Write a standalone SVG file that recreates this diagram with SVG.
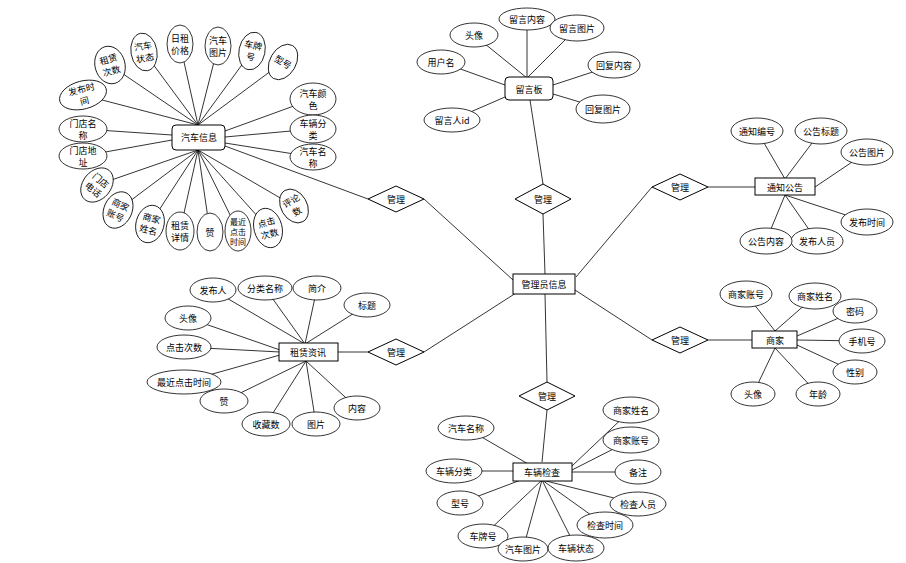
<svg xmlns="http://www.w3.org/2000/svg" width="906" height="563" viewBox="0 0 906 563">
<style>
.b{fill:#fff;stroke:#000;stroke-width:1}
.e{fill:#fff;stroke:#000;stroke-width:0.8}
.l{stroke:#000;stroke-width:0.8;fill:none}
text{font-family:"Noto Sans CJK SC","Liberation Sans",sans-serif;font-size:9px;text-anchor:middle;dominant-baseline:central;fill:#000}
.s{font-size:8px}
</style>
<rect width="906" height="563" fill="#fff"/>
<g id="connectors" class="l">
<path d="M225 146L368 199M424 199L513 280M530 100L543 184M543 214L545 274M576 277L652 187M708 187L755 187M575 290L652 340M708 340L752 340M338 352L368 352M424 352L516 293M545 294L547 382M547 410L542 462"/>
<path d="M110 65L198 125M144 52L198 125M180 44L198 125M218 46L198 125M252 51L198 125M283 62L198 125M313 99L225 131M313 129L225 137M313 157L225 143M294 206L198 150M268 228L198 150M238 231L198 150M210 232L198 150M180 231L198 150M150 224L198 150M118 210L198 150M97 185L198 150M83 156L172 140M83 129L172 135M83 95L198 125"/>
<path d="M213 290L305 344M265 288L305 344M317 288L305 344M367 305L305 344M188 318L280 350M184 347L280 352M184 382L280 355M224 401L306 361M266 424L306 361M316 424L306 361M357 408L306 361"/>
<path d="M474 35L527 78M527 19L527 78M577 28L527 78M441 62L505 85M614 65L553 85M603 109L553 94M452 120L505 97"/>
<path d="M757 131L785 179M821 131L785 179M867 152L815 187M867 222L785 195M817 241L785 195M766 241L785 195"/>
<path d="M746 294L775 331M815 296L775 331M855 311L797 336M862 341L797 340M855 372L797 345M818 394L775 348M753 394L775 348"/>
<path d="M466 428L542 472M454 471L513 471M460 503L542 472M483 536L542 480M523 549L542 480M576 548L542 480M605 525L542 480M638 504L542 480M638 472L572 472M631 440L572 470M631 410L572 466"/>
</g>
<g id="admin"><rect class="b" x="513" y="274" width="62" height="20"/><text x="544" y="284">管理员信息</text></g>
<g id="car"><rect class="b" x="172" y="125" width="53" height="25" rx="4"/><text x="199" y="137">汽车信息</text></g>
<g id="board"><rect class="b" x="505" y="77" width="48" height="23" rx="4"/><text x="529" y="89">留言板</text></g>
<g id="notice"><rect class="b" x="755" y="178" width="60" height="17"/><text x="785" y="187">通知公告</text></g>
<g id="merchant"><rect class="b" x="752" y="331" width="45" height="17"/><text x="775" y="340">商家</text></g>
<g id="check"><rect class="b" x="513" y="463" width="59" height="18"/><text x="542" y="472">车辆检查</text></g>
<g id="rental"><rect class="b" x="279" y="343" width="59" height="18"/><text x="308" y="352">租赁资讯</text></g>
<g id="diamonds">
<g id="d1"><polygon class="b" points="368,199 396,186 424,199 396,212"/><text x="396" y="199">管理</text></g>
<g id="d2"><polygon class="b" points="515,199 543,184 571,199 543,214"/><text x="543" y="199">管理</text></g>
<g id="d3"><polygon class="b" points="652,187 680,174 708,187 680,200"/><text x="680" y="187">管理</text></g>
<g id="d4"><polygon class="b" points="368,352 396,339 424,352 396,365"/><text x="396" y="352">管理</text></g>
<g id="d5"><polygon class="b" points="652,340 680,327 708,340 680,353"/><text x="680" y="340">管理</text></g>
<g id="d6"><polygon class="b" points="519,396 547,382 575,396 547,410"/><text x="547" y="396">管理</text></g>
</g>
<g id="car-attrs">
<g transform="rotate(-15 110 65)"><ellipse class="e" cx="110" cy="65" rx="15" ry="19"/><text x="110" y="59">租赁</text><text x="110" y="71">次数</text></g>
<g transform="rotate(-10 144 52)"><ellipse class="e" cx="144" cy="52" rx="13" ry="19"/><text x="144" y="46">汽车</text><text x="144" y="58">状态</text></g>
<g><ellipse class="e" cx="180" cy="44" rx="13" ry="19"/><text x="180" y="38">日租</text><text x="180" y="50">价格</text></g>
<g><ellipse class="e" cx="218" cy="46" rx="13" ry="19"/><text x="218" y="40">汽车</text><text x="218" y="52">图片</text></g>
<g transform="rotate(12 252 51)"><ellipse class="e" cx="252" cy="51" rx="13" ry="19"/><text x="252" y="45">车牌</text><text x="252" y="57">号</text></g>
<g transform="rotate(30 283 62)"><ellipse class="e" cx="283" cy="62" rx="13" ry="19"/><text x="283" y="62">型号</text></g>
<g><ellipse class="e" cx="313" cy="99" rx="23" ry="16"/><text x="313" y="93">汽车颜</text><text x="313" y="105">色</text></g>
<g><ellipse class="e" cx="313" cy="129" rx="23" ry="14"/><text x="313" y="123">车辆分</text><text x="313" y="135">类</text></g>
<g><ellipse class="e" cx="313" cy="157" rx="23" ry="13"/><text x="313" y="151">汽车名</text><text x="313" y="163">称</text></g>
<g transform="rotate(-30 294 206)"><ellipse class="e" cx="294" cy="206" rx="13" ry="18"/><text x="294" y="200">评论</text><text x="294" y="212">数</text></g>
<g transform="rotate(-15 268 228)"><ellipse class="e" cx="268" cy="228" rx="14" ry="20"/><text x="268" y="222">点击</text><text x="268" y="234">次数</text></g>
<g><ellipse class="e" cx="238" cy="231" rx="13" ry="20"/><text class="s" x="238" y="221">最近</text><text class="s" x="238" y="231">点击</text><text class="s" x="238" y="241">时间</text></g>
<g><ellipse class="e" cx="210" cy="232" rx="13" ry="19"/><text x="210" y="232">赞</text></g>
<g><ellipse class="e" cx="180" cy="231" rx="14" ry="19"/><text x="180" y="225">租赁</text><text x="180" y="237">详情</text></g>
<g transform="rotate(15 150 224)"><ellipse class="e" cx="150" cy="224" rx="14" ry="19"/><text x="150" y="218">商家</text><text x="150" y="230">姓名</text></g>
<g transform="rotate(25 118 210)"><ellipse class="e" cx="118" cy="210" rx="14" ry="19"/><text x="118" y="204">商家</text><text x="118" y="216">账号</text></g>
<g transform="rotate(40 97 185)"><ellipse class="e" cx="97" cy="185" rx="14" ry="19"/><text x="97" y="179">门店</text><text x="97" y="191">电话</text></g>
<g><ellipse class="e" cx="83" cy="156" rx="24" ry="13"/><text x="83" y="150">门店地</text><text x="83" y="162">址</text></g>
<g><ellipse class="e" cx="83" cy="129" rx="24" ry="13"/><text x="83" y="123">门店名</text><text x="83" y="135">称</text></g>
<g transform="rotate(-15 83 95)"><ellipse class="e" cx="83" cy="95" rx="24" ry="14"/><text x="83" y="89">发布时</text><text x="83" y="101">间</text></g>
</g>
<g id="rental-attrs">
<ellipse class="e" cx="213" cy="290" rx="23" ry="12"/><text x="213" y="290">发布人</text>
<ellipse class="e" cx="265" cy="288" rx="27" ry="12"/><text x="265" y="288">分类名称</text>
<ellipse class="e" cx="317" cy="288" rx="24" ry="12"/><text x="317" y="288">简介</text>
<ellipse class="e" cx="367" cy="305" rx="23" ry="12"/><text x="367" y="305">标题</text>
<ellipse class="e" cx="188" cy="318" rx="23" ry="12"/><text x="188" y="318">头像</text>
<ellipse class="e" cx="184" cy="347" rx="27" ry="12"/><text x="184" y="347">点击次数</text>
<ellipse class="e" cx="184" cy="382" rx="37" ry="12"/><text x="184" y="382">最近点击时间</text>
<ellipse class="e" cx="224" cy="401" rx="24" ry="12"/><text x="224" y="401">赞</text>
<ellipse class="e" cx="266" cy="424" rx="24" ry="12"/><text x="266" y="424">收藏数</text>
<ellipse class="e" cx="316" cy="424" rx="24" ry="12"/><text x="316" y="424">图片</text>
<ellipse class="e" cx="357" cy="408" rx="23" ry="12"/><text x="357" y="408">内容</text>
</g>
<g id="board-attrs">
<ellipse class="e" cx="474" cy="35" rx="24" ry="12"/><text x="474" y="35">头像</text>
<ellipse class="e" cx="527" cy="19" rx="28" ry="11"/><text x="527" y="19">留言内容</text>
<ellipse class="e" cx="577" cy="28" rx="27" ry="13"/><text x="577" y="28">留言图片</text>
<ellipse class="e" cx="441" cy="62" rx="24" ry="12"/><text x="441" y="62">用户名</text>
<ellipse class="e" cx="614" cy="65" rx="26" ry="13"/><text x="614" y="65">回复内容</text>
<ellipse class="e" cx="603" cy="109" rx="27" ry="14"/><text x="603" y="109">回复图片</text>
<ellipse class="e" cx="452" cy="120" rx="28" ry="12"/><text x="452" y="120">留言人id</text>
</g>
<g id="notice-attrs">
<ellipse class="e" cx="757" cy="131" rx="26" ry="13"/><text x="757" y="131">通知编号</text>
<ellipse class="e" cx="821" cy="131" rx="26" ry="13"/><text x="821" y="131">公告标题</text>
<ellipse class="e" cx="867" cy="152" rx="26" ry="13"/><text x="867" y="152">公告图片</text>
<ellipse class="e" cx="867" cy="222" rx="26" ry="13"/><text x="867" y="222">发布时间</text>
<ellipse class="e" cx="817" cy="241" rx="26" ry="13"/><text x="817" y="241">发布人员</text>
<ellipse class="e" cx="766" cy="241" rx="26" ry="13"/><text x="766" y="241">公告内容</text>
</g>
<g id="merchant-attrs">
<ellipse class="e" cx="746" cy="294" rx="26" ry="13"/><text x="746" y="294">商家账号</text>
<ellipse class="e" cx="815" cy="296" rx="26" ry="13"/><text x="815" y="296">商家姓名</text>
<ellipse class="e" cx="855" cy="311" rx="22" ry="12"/><text x="855" y="311">密码</text>
<ellipse class="e" cx="862" cy="341" rx="23" ry="12"/><text x="862" y="341">手机号</text>
<ellipse class="e" cx="855" cy="372" rx="22" ry="12"/><text x="855" y="372">性别</text>
<ellipse class="e" cx="818" cy="394" rx="22" ry="12"/><text x="818" y="394">年龄</text>
<ellipse class="e" cx="753" cy="394" rx="22" ry="12"/><text x="753" y="394">头像</text>
</g>
<g id="check-attrs">
<ellipse class="e" cx="466" cy="428" rx="28" ry="12"/><text x="466" y="428">汽车名称</text>
<ellipse class="e" cx="454" cy="471" rx="28" ry="12"/><text x="454" y="471">车辆分类</text>
<ellipse class="e" cx="460" cy="503" rx="23" ry="12"/><text x="460" y="503">型号</text>
<ellipse class="e" cx="483" cy="536" rx="25" ry="12"/><text x="483" y="536">车牌号</text>
<ellipse class="e" cx="523" cy="549" rx="25" ry="12"/><text x="523" y="549">汽车图片</text>
<ellipse class="e" cx="576" cy="548" rx="28" ry="13"/><text x="576" y="548">车辆状态</text>
<ellipse class="e" cx="605" cy="525" rx="28" ry="13"/><text x="605" y="525">检查时间</text>
<ellipse class="e" cx="638" cy="504" rx="28" ry="12"/><text x="638" y="504">检查人员</text>
<ellipse class="e" cx="638" cy="472" rx="23" ry="12"/><text x="638" y="472">备注</text>
<ellipse class="e" cx="631" cy="440" rx="28" ry="13"/><text x="631" y="440">商家账号</text>
<ellipse class="e" cx="631" cy="410" rx="28" ry="13"/><text x="631" y="410">商家姓名</text>
</g>
</svg>
